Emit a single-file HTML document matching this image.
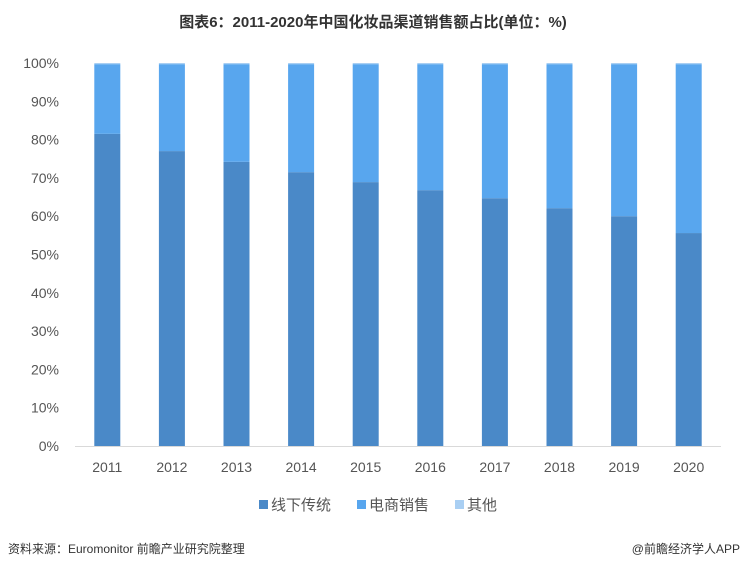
<!DOCTYPE html>
<html><head><meta charset="utf-8"><style>
body{margin:0;background:#fff;font-family:"Liberation Sans","Noto Sans CJK SC",sans-serif;}
#wrap{position:relative;width:746px;height:568px;overflow:hidden;}
</style></head><body>
<div id="wrap">
<svg id="chart" width="746" height="568">
<text x="373" y="27" text-anchor="middle" font-size="15" font-weight="bold" fill="#333" font-family="Liberation Sans,Noto Sans CJK SC,sans-serif">图表6：2011-2020年中国化妆品渠道销售额占比(单位：%)</text>
<g id="yaxis"></g><g id="bars"></g><g id="xaxis"></g>
<g>
<rect x="259" y="500" width="9" height="9" fill="#4a89c8"/>
<text x="271" y="510" font-size="15" fill="#555">线下传统</text>
<rect x="357" y="500" width="9" height="9" fill="#58a6ee"/>
<text x="369" y="510" font-size="15" fill="#555">电商销售</text>
<rect x="455" y="500" width="9" height="9" fill="#a9cff3"/>
<text x="467" y="510" font-size="15" fill="#555">其他</text>
</g>
<text x="8" y="553" font-size="12" fill="#333">资料来源：Euromonitor 前瞻产业研究院整理</text>
<text x="740" y="553" font-size="12" fill="#333" text-anchor="end">@前瞻经济学人APP</text>
</svg>
</div>
<script>
const categories=["2011","2012","2013","2014","2015","2016","2017","2018","2019","2020"];
const offline=[81.5,77.0,74.2,71.5,68.9,66.8,64.7,62.1,60.0,55.6];
const other=[0.3,0.3,0.3,0.3,0.3,0.3,0.3,0.3,0.3,0.3];
const yTicks=[0,10,20,30,40,50,60,70,80,90,100];
const NS="http://www.w3.org/2000/svg";
const y0=446,y1=63,xL=75,xR=721;
const ys=v=>y0-(v/100)*(y0-y1);
const bw=(xR-xL)/categories.length;
const xc=i=>xL+bw*(i+0.5);
function mk(t,a,p){const e=document.createElementNS(NS,t);for(const k in a)e.setAttribute(k,a[k]);p.appendChild(e);return e;}
const ya=document.getElementById('yaxis');
yTicks.forEach(t=>{const e=mk('text',{x:59,y:ys(t)+5,'text-anchor':'end','font-size':14,fill:'#555'},ya);e.textContent=t+'%';

});
const bg=document.getElementById('bars');
categories.forEach((c,i)=>{
const x=xc(i)-13;const on=100-offline[i]-other[i];
const r1=mk('rect',{x:x,y:ys(offline[i]),width:26,height:ys(0)-ys(offline[i]),fill:'#4a89c8'},bg);


const r2=mk('rect',{x:x,y:ys(offline[i]+on),width:26,height:ys(offline[i])-ys(offline[i]+on),fill:'#58a6ee'},bg);


const r3=mk('rect',{x:x,y:ys(100),width:26,height:ys(offline[i]+on)-ys(100),fill:'#a9cff3'},bg);


const tl=mk('text',{x:xc(i),y:472,'text-anchor':'middle','font-size':14,fill:'#555'},document.getElementById('xaxis'));
tl.textContent=c;


});
const ax=mk('line',{x1:xL,x2:xR,y1:y0+0.5,y2:y0+0.5,stroke:'#d9d9d9'},document.getElementById('xaxis'));


</script>
</body></html>
